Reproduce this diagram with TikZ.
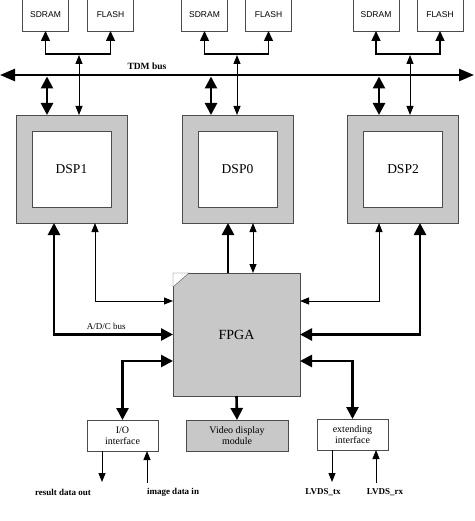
\documentclass[tikz,border=0pt]{standalone}
\usepackage{fontspec}
\setmainfont{Liberation Serif}
\setsansfont{Liberation Sans}
\usetikzlibrary{arrows.meta}
\definecolor{boxgray}{RGB}{200,200,200}
\tikzstyle{memory} = [rectangle, minimum width = 46pt, minimum height = 33pt, inner sep = 0pt, outer sep = 0pt, draw = black!70, fill = white, font = \sffamily\fontsize{8.5}{10}\selectfont]
\tikzstyle{dspout} = [rectangle, minimum width = 111pt, minimum height = 108pt, inner sep = 0pt, outer sep = 0pt, draw = black!70, fill = boxgray]
\tikzstyle{dspin} = [rectangle, minimum width = 79pt, minimum height = 76pt, inner sep = 0pt, outer sep = 0pt, draw = black!70, fill = white, font = \fontsize{13.5}{15}\selectfont]
\tikzstyle{chip} = [rectangle, minimum width = 127pt, minimum height = 123pt, inner sep = 0pt, outer sep = 0pt, draw = black!70, fill = boxgray, font = \fontsize{14}{16}\selectfont]
\tikzstyle{iface} = [rectangle, minimum width = 71pt, minimum height = 31pt, inner sep = 0pt, outer sep = 0pt, align = center, draw = black!70, fill = white, font = \fontsize{10}{11.5}\selectfont]
\tikzstyle{label} = [font = \bfseries\fontsize{9}{10.5}\selectfont]
\tikzstyle{thinarrow} = [line width = 0.9pt, -{Triangle[length=9pt,width=7pt]}]
\tikzstyle{thinboth} = [line width = 0.9pt, {Triangle[length=9pt,width=7pt]}-{Triangle[length=9pt,width=7pt]}]
\tikzstyle{memboth} = [line width = 1.4pt, {Triangle[length=10pt,width=9pt]}-{Triangle[length=10pt,width=9pt]}]
\tikzstyle{thickarrow} = [line width = 2.6pt, -{Triangle[length=12pt,width=12pt]}]
\tikzstyle{thickboth} = [line width = 2.6pt, {Triangle[length=12pt,width=12pt]}-{Triangle[length=12pt,width=12pt]}]
\begin{document}
\begin{tikzpicture}[x=1pt, y=-1pt]

\useasboundingbox (0,0) rectangle (474,521);
\clip (0,0) rectangle (474,521);

% memories on top
\node (sdram1) [memory] at (45.5,14.5) {SDRAM};
\node (flash1) [memory] at (110.5,14.5) {FLASH};
\node (sdram0) [memory] at (204.5,14.5) {SDRAM};
\node (flash0) [memory] at (268.5,14.5) {FLASH};
\node (sdram2) [memory] at (376,14.5) {SDRAM};
\node (flash2) [memory] at (440,14.5) {FLASH};

% DSPs
\node (dsp1) [dspout] at (71.5,169) {};
\node (dsp1in) [dspin] at (71.5,169) {DSP1};
\node (dsp0) [dspout] at (237.5,169) {};
\node (dsp0in) [dspin] at (237.5,169) {DSP0};
\node (dsp2) [dspout] at (403,169) {};
\node (dsp2in) [dspin] at (403,169) {DSP2};

% FPGA with folded corner
\node (fpga) [chip] at (236.5,334.5) {FPGA};
\filldraw [fill = white, draw = black!70] (fpga.north west) -- ([xshift=16pt]fpga.north west) -- ([yshift=-14pt]fpga.north west) -- cycle;

% interfaces
\node (io) [iface] at (122.5,435.5) {I/O\\interface};
\node (video) [iface, minimum width = 102pt, fill = boxgray] at (237,435.5) {Video display\\module};
\node (ext) [iface] at (352.5,434.5) {extending\\interface};

% outside labels
\node (rout) [label] at (63,492) {result data out};
\node (imin) [label] at (173,492) {image data in};
\node (lvdstx) [label] at (323,492) {LVDS\_tx};
\node (lvdsrx) [label] at (385,492) {LVDS\_rx};

% TDM bus
\coordinate (busL) at (0,75);
\coordinate (busR) at (474,75);
\draw [line width = 2.6pt, {Triangle[length=15pt,width=12pt]}-{Triangle[length=15pt,width=12pt]}] (busL) -- node[label, above = 1pt, pos = 0.31, font = \bfseries\fontsize{9.5}{11}\selectfont]{TDM bus} (busR);

% memory junctions
\coordinate (j1) at (79,54);
\coordinate (j0) at (237,54);
\coordinate (j2) at (410,54);
\draw [memboth] (sdram1.south) |- (j1) -| (flash1.south);
\draw [memboth] (sdram0.south) |- (j0) -| (flash0.south);
\draw [memboth] (sdram2.south) |- (j2) -| (flash2.south);
\draw [thinboth, shorten > = 1pt] (dsp1.north -| j1) -- (j1);
\draw [thinboth, shorten > = 1pt] (dsp0.north -| j0) -- (j0);
\draw [thinboth, shorten > = 1pt] (dsp2.north -| j2) -- (j2);

% DSPs to bus
\draw [thickboth, shorten > = 1.5pt] ([xshift=-24.5pt]dsp1.north) -- ([xshift=-24.5pt]dsp1.north |- busL);
\draw [thickboth, shorten > = 1.5pt] ([xshift=-26.5pt]dsp0.north) -- ([xshift=-26.5pt]dsp0.north |- busL);
\draw [thickboth, shorten > = 1.5pt] ([xshift=-24pt]dsp2.north) -- ([xshift=-24pt]dsp2.north |- busL);

% DSPs to FPGA
\draw [thickboth] ([xshift=-17.5pt]dsp1.south) |- node[pos = 0.72, above, font = \fontsize{9}{10.5}\selectfont]{A/D/C bus} (fpga.west);
\draw [thinboth] ([xshift=23.5pt]dsp1.south) |- ([yshift=33.5pt]fpga.west);
\draw [thickarrow] ([xshift=-9.5pt]dsp0.south |- fpga.north) -- ([xshift=-9.5pt]dsp0.south);
\draw [thinboth] ([xshift=15.5pt]dsp0.south) -- ([xshift=15.5pt]dsp0.south |- fpga.north);
\draw [thinboth] ([xshift=-24pt]dsp2.south) |- ([yshift=33.5pt]fpga.east);
\draw [thickboth] ([xshift=17pt]dsp2.south) |- (fpga.east);

% FPGA to interfaces
\draw [thickboth] ([yshift=-26.5pt]fpga.west) -| (io.north);
\draw [thickarrow] (fpga.south) -- (video.north);
\draw [thickboth] ([yshift=-26.5pt]fpga.east) -| (ext.north);

% outside signals
\coordinate (routend) at (102,482);
\coordinate (iminstart) at (147,483);
\coordinate (txend) at (332,482);
\coordinate (rxstart) at (376,483);
\draw [thinarrow] (io.south -| routend) -- (routend);
\draw [thinarrow] (iminstart) -- (io.south -| iminstart);
\draw [thinarrow] (ext.south -| txend) -- (txend);
\draw [thinarrow] (rxstart) -- (ext.south -| rxstart);

\end{tikzpicture}
\end{document}
